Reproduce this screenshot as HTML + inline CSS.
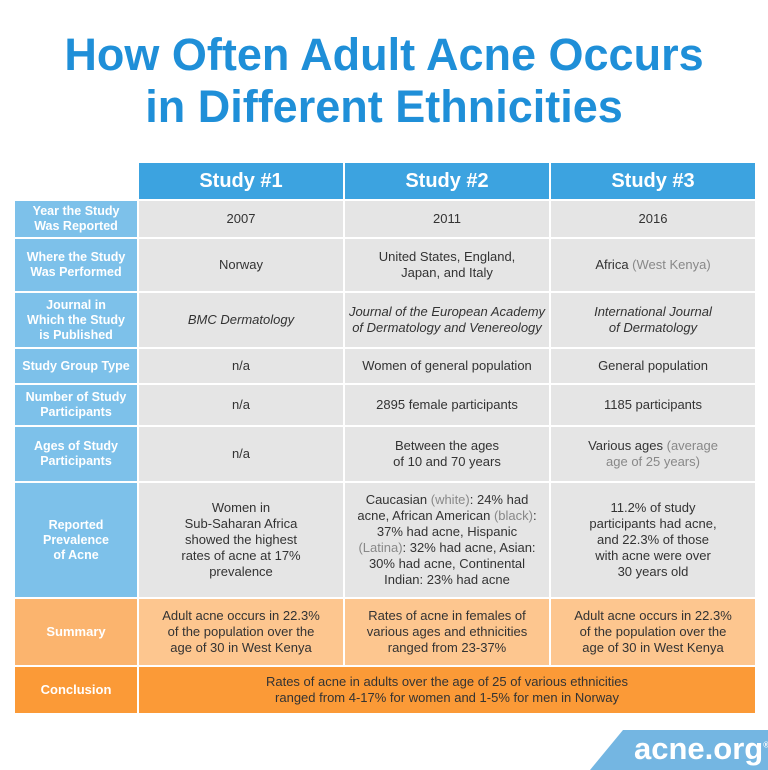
<!DOCTYPE html>
<html><head><style>
body{margin:0;width:768px;height:768px;background:#fff;position:relative;overflow:hidden;font-family:"Liberation Sans",Arial,sans-serif;}
h1{position:absolute;top:29px;left:0;width:768px;margin:0;text-align:center;color:#1f8fd8;font-size:45px;line-height:52px;font-weight:bold;}
table{position:absolute;left:13px;top:161px;border-collapse:collapse;}
td{border:2px solid #fff;text-align:center;vertical-align:middle;padding:0;font-size:13px;color:#333;line-height:16px;background:#e5e5e5;}
td.l{background:#7dc1ea;color:#fff;font-weight:bold;width:122px;font-size:12.5px;line-height:15px;}
td.h{background:#3ca3e0;color:#fff;font-weight:bold;font-size:20px;height:36px;}
td.e{background:#fff;}
td.s{background:#fdc68f;}
td.sl{background:#fbb46e;color:#fff;font-weight:bold;}
td.c{background:#fb9a37;}
.g{color:#888;}
.logo{position:absolute;left:590px;top:730px;width:200px;height:40px;background:#74b6e2;clip-path:polygon(33px 0,100% 0,100% 100%,0 100%);}
.logo span{position:absolute;left:44px;top:1px;color:#fff;font-weight:bold;font-size:31px;}
</style></head><body>
<h1>How Often Adult Acne Occurs<br>in Different Ethnicities</h1>
<table>
<tr><td class="e" style="width:122px"></td><td class="h" style="width:204px">Study #1</td><td class="h" style="width:204px">Study #2</td><td class="h" style="width:204px">Study #3</td></tr>
<tr style="height:38px"><td class="l">Year the Study<br>Was Reported</td><td>2007</td><td>2011</td><td>2016</td></tr>
<tr style="height:54px"><td class="l">Where the Study<br>Was Performed</td><td>Norway</td><td>United States, England,<br>Japan, and Italy</td><td>Africa <span class="g">(West Kenya)</span></td></tr>
<tr style="height:56px"><td class="l">Journal in<br>Which the Study<br>is Published</td><td><i>BMC Dermatology</i></td><td><i>Journal of the European Academy<br>of Dermatology and Venereology</i></td><td><i>International Journal<br>of Dermatology</i></td></tr>
<tr style="height:36px"><td class="l">Study Group Type</td><td>n/a</td><td>Women of general population</td><td>General population</td></tr>
<tr style="height:42px"><td class="l">Number of Study<br>Participants</td><td>n/a</td><td>2895 female participants</td><td>1185 participants</td></tr>
<tr style="height:56px"><td class="l">Ages of Study<br>Participants</td><td>n/a</td><td>Between the ages<br>of 10 and 70 years</td><td>Various ages <span class="g">(average<br>age of 25 years)</span></td></tr>
<tr style="height:116px"><td class="l">Reported<br>Prevalence<br>of Acne</td><td>Women in<br>Sub-Saharan Africa<br>showed the highest<br>rates of acne at 17%<br>prevalence</td><td>Caucasian <span class="g">(white)</span>: 24% had<br>acne, African American <span class="g">(black)</span>:<br>37% had acne, Hispanic<br><span class="g">(Latina)</span>: 32% had acne, Asian:<br>30% had acne, Continental<br>Indian: 23% had acne</td><td>11.2% of study<br>participants had acne,<br>and 22.3% of those<br>with acne were over<br>30 years old</td></tr>
<tr style="height:68px"><td class="sl">Summary</td><td class="s">Adult acne occurs in 22.3%<br>of the population over the<br>age of 30 in West Kenya</td><td class="s">Rates of acne in females of<br>various ages and ethnicities<br>ranged from 23-37%</td><td class="s">Adult acne occurs in 22.3%<br>of the population over the<br>age of 30 in West Kenya</td></tr>
<tr style="height:48px"><td class="sl" style="background:#fb9a37">Conclusion</td><td class="c" colspan="3">Rates of acne in adults over the age of 25 of various ethnicities<br>ranged from 4-17% for women and 1-5% for men in Norway</td></tr>
</table>
<div class="logo"><span>acne.org<sup style="font-size:8px">®</sup></span></div>
</body></html>
